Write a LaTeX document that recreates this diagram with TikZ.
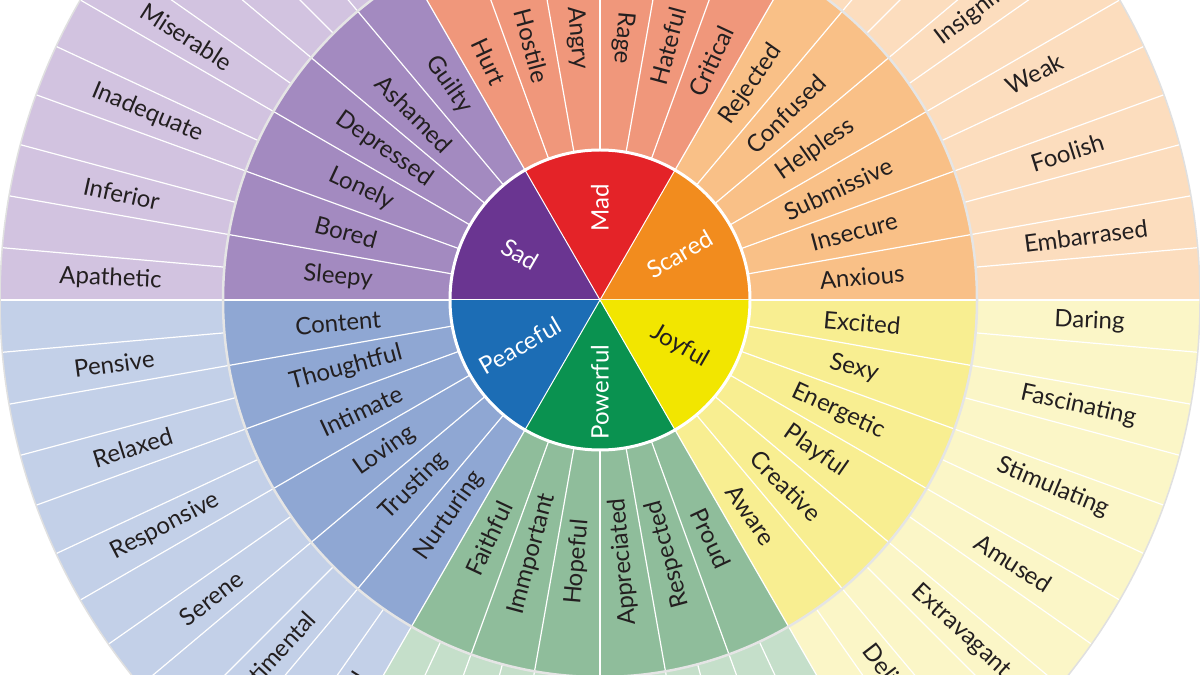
\documentclass[tikz,border=0pt]{standalone}
\usepackage{fontspec}
\setmainfont{Lato}
\definecolor{sadI}{HTML}{6A3591}\definecolor{sadM}{HTML}{A38AC0}\definecolor{sadO}{HTML}{D2C3E0}
\definecolor{madI}{HTML}{E42328}\definecolor{madM}{HTML}{F0977B}\definecolor{madO}{HTML}{F7C6B6}
\definecolor{scI}{HTML}{F28C1E}\definecolor{scM}{HTML}{F9C087}\definecolor{scO}{HTML}{FCDDBE}
\definecolor{joI}{HTML}{F2E600}\definecolor{joM}{HTML}{F8EE91}\definecolor{joO}{HTML}{FBF6C7}
\definecolor{poI}{HTML}{0A9250}\definecolor{poM}{HTML}{8FBD9B}\definecolor{poO}{HTML}{C5DFCA}
\definecolor{peI}{HTML}{1C6DB5}\definecolor{peM}{HTML}{8FA7D3}\definecolor{peO}{HTML}{C3D0E8}
\definecolor{ink}{HTML}{231F20}
\tikzset{word/.style={font=\fontsize{24}{26}\selectfont, text=ink, inner sep=0pt},
 core/.style={font=\fontsize{24}{26}\selectfont, text=white, inner sep=0pt},
 sep/.style={white, line width=1.2pt}}
\begin{document}
\begin{tikzpicture}[x=1pt,y=1pt]
\useasboundingbox (0,0) rectangle (1200,675);
\clip (0,0) rectangle (1200,675);
\fill[white] (0,0) rectangle (1200,675);
\coordinate (O) at (600,375);
\foreach \a/\ci/\cm/\co in {0/scI/scM/scO,60/madI/madM/madO,120/sadI/sadM/sadO,180/peI/peM/peO,240/poI/poM/poO,300/joI/joM/joO}{
  \fill[\co] (O) -- ++(\a:600) arc[start angle=\a, end angle=\a+60, radius=600] -- cycle;
  \fill[\cm] (O) -- ++(\a:377) arc[start angle=\a, end angle=\a+60, radius=377] -- cycle;
  \fill[\ci] (O) -- ++(\a:150) arc[start angle=\a, end angle=\a+60, radius=150] -- cycle;
  \draw[white, line width=1pt] (O) -- ++(\a:150);
}
\foreach \a in {0,5,...,355}{\draw[sep] (O) ++(\a:377) -- ++(\a:223);}
\foreach \a in {0,10,...,350}{\draw[sep] (O) ++(\a:150) -- ++(\a:227);}
\draw[white, line width=3pt] (O) circle[radius=150];
\draw[white!90!black, line width=2.5pt] (O) circle[radius=377];
\draw[white!88!black, line width=1.5pt] (O) circle[radius=600];
% inner labels
\path (O) ++(30:92) node[core, rotate=30] (scared) {Scared};
\path (O) ++(90:92) node[core, rotate=90] (mad) {Mad};
\path (O) ++(150:92) node[core, rotate=-30] (sad) {Sad};
\path (O) ++(210:92) node[core, rotate=30] (peaceful) {Peaceful};
\path (O) ++(270:92) node[core, rotate=90] (powerful) {Powerful};
\path (O) ++(330:92) node[core, rotate=-30, text=ink] (joyful) {Joyful};
% middle ring
\foreach \ang/\w [count=\i] in {5/Anxious,15/Insecure,25/Submissive,35/Helpless,45/Confused,55/Rejected,
 65/Critical,75/Hateful,85/Rage,95/Angry,105/Hostile,115/Hurt,
 125/Guilty,135/Ashamed,145/Depressed,155/Lonely,165/Bored,175/Sleepy,
 185/Content,195/Thoughtful,205/Intimate,215/Loving,225/Trusting,235/Nurturing,
 245/Faithful,255/Immportant,265/Hopeful,275/Appreciated,285/Respected,295/Proud,
 305/Aware,315/Creative,325/Playful,335/Energetic,345/Sexy,355/Excited}{
  \pgfmathsetmacro\rot{ifthenelse(and(\ang>80,\ang<290),\ang+180,\ang)}
  \path (O) ++(\ang:263) node[word, rotate=\rot] (m\i) {\w};
}
% outer ring
\foreach \ang/\w [count=\i] in {7.5/Embarrased,17.5/Foolish,27.5/Weak,37.5/Insignificant,
 147.5/Miserable,157.5/Inadequate,167.5/Inferior,177.5/Apathetic,
 187.5/Pensive,197.5/Relaxed,207.5/Responsive,217.5/Serene,227.5/Sentimental,237.5/Thankful,
 307.5/Delightful,317.5/Extravagant,327.5/Amused,337.5/Stimulating,347.5/Fascinating,357.5/Daring}{
  \pgfmathsetmacro\rot{ifthenelse(and(\ang>80,\ang<290),\ang+180,\ang)}
  \path (O) ++(\ang:490) node[word, rotate=\rot] (o\i) {\w};
}
\end{tikzpicture}
\end{document}
